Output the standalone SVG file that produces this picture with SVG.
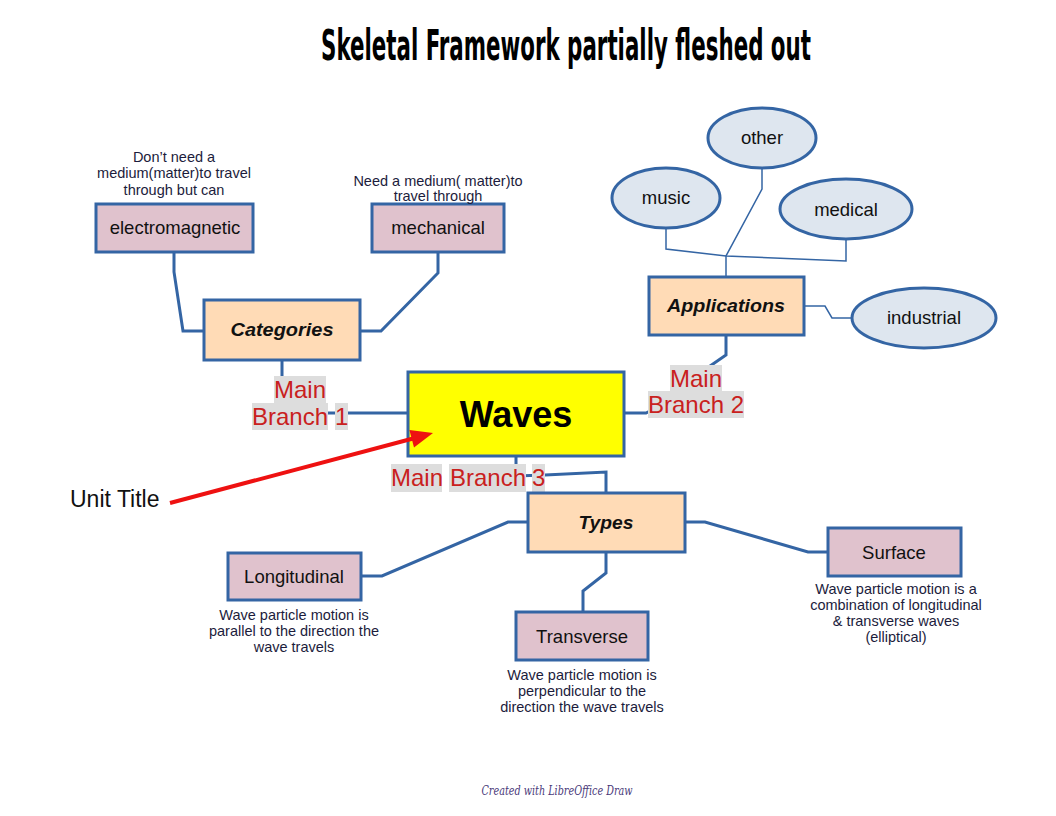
<svg xmlns="http://www.w3.org/2000/svg" width="1056" height="816" viewBox="0 0 1056 816">
<defs>
<style>
.box{stroke:#3465a4;stroke-width:3}
.leaf{fill:#e0c2cd}
.hub{fill:#ffdbb6}
.oval{fill:#dee6ef;stroke:#3465a4;stroke-width:3}
.conn{fill:none;stroke:#3465a4;stroke-width:3;stroke-linejoin:miter}
.thin{fill:none;stroke:#3465a4;stroke-width:1.5}
.lbl{font-family:"Liberation Sans",Arial,sans-serif;font-size:18.5px;fill:#111;text-anchor:middle}
.hubt{font-family:"Liberation Sans",Arial,sans-serif;font-size:19px;font-weight:bold;font-style:italic;fill:#111;text-anchor:middle}
.note{font-family:"Liberation Sans",Arial,sans-serif;font-size:14.5px;fill:#1c1c3c;text-anchor:middle}
.br{font-family:"Liberation Sans",Arial,sans-serif;font-size:24px;fill:#c9211e}
.brbg{fill:#dddddd}
</style>
</defs>
<rect width="1056" height="816" fill="#ffffff"/>

<text x="566" y="60" font-family="'Liberation Sans Narrow','DejaVu Sans Condensed',sans-serif" font-size="42" font-weight="bold" fill="#000" text-anchor="middle" textLength="490" lengthAdjust="spacingAndGlyphs">Skeletal Framework partially fleshed out</text>

<g id="connectors">
<polyline class="conn" points="174,252 174,272 183,331 204,331"/>
<polyline class="conn" points="360,331 381,331 438,273 438,252"/>
<polyline class="conn" points="282,360 282,413 408,413"/>
<polyline class="conn" points="726,335 726,355 700,373 662,405 646,413 624,413"/>
<polyline class="conn" points="516,456 516,476 545,475 606,472 606,492"/>
<polyline class="conn" points="528,522 508,522 382,576 362,576"/>
<polyline class="conn" points="685,522 705,522 808,552 828,552"/>
<polyline class="conn" points="606,552 606,573 583,591 583,612"/>
<polyline class="thin" points="666,228 666,249 726,256 846,261 846,240"/>
<polyline class="thin" points="762,168 762,189 726,256 726,277"/>
<polyline class="thin" points="804,306 825,306 832,318 852,318"/>
</g>

<g id="branch1">
<rect class="brbg" x="274" y="376" width="52" height="27"/>
<rect class="brbg" x="252" y="403" width="76" height="27"/>
<rect class="brbg" x="335" y="403" width="13" height="27"/>
<text class="br" x="300" y="398" text-anchor="middle">Main</text>
<text class="br" x="252" y="425">Branch</text>
<text class="br" x="335" y="425">1</text>
</g>
<g id="branch2">
<rect class="brbg" x="670" y="365" width="52" height="26"/>
<rect class="brbg" x="648" y="391" width="96" height="27"/>
<text class="br" x="696" y="387" text-anchor="middle">Main</text>
<text class="br" x="696" y="413" text-anchor="middle">Branch 2</text>
</g>
<g id="branch3">
<rect class="brbg" x="391" y="464" width="51" height="28"/>
<rect class="brbg" x="449" y="464" width="77" height="28"/>
<rect class="brbg" x="532" y="464" width="13" height="28"/>
<text class="br" x="391" y="486">Main</text>
<text class="br" x="450" y="486">Branch</text>
<text class="br" x="532" y="486">3</text>
</g>

<g id="waves">
<rect class="box" x="408" y="372" width="216" height="84" fill="#ffff00"/>
<text x="516" y="427" font-family="'Liberation Sans',Arial,sans-serif" font-size="36" font-weight="bold" fill="#000" text-anchor="middle">Waves</text>
</g>

<g id="categories">
<rect class="box hub" x="204" y="300" width="156" height="60"/>
<text class="hubt" x="282" y="336" textLength="103" lengthAdjust="spacingAndGlyphs">Categories</text>
</g>
<g id="electromagnetic">
<rect class="box leaf" x="96" y="204" width="157" height="48"/>
<text class="lbl" x="175" y="234">electromagnetic</text>
<text class="note" x="174" y="162">Don’t need a</text>
<text class="note" x="174" y="178">medium(matter)to travel</text>
<text class="note" x="174" y="195">through but can</text>
</g>
<g id="mechanical">
<rect class="box leaf" x="372" y="204" width="132" height="48"/>
<text class="lbl" x="438" y="234">mechanical</text>
<text class="note" x="438" y="186">Need a medium( matter)to</text>
<text class="note" x="438" y="201">travel through</text>
</g>

<g id="applications">
<rect class="box hub" x="649" y="277" width="155" height="58"/>
<text class="hubt" x="726" y="312" textLength="118" lengthAdjust="spacingAndGlyphs">Applications</text>
</g>
<g id="other">
<ellipse class="oval" cx="762" cy="138" rx="54" ry="30"/>
<text class="lbl" x="762" y="144">other</text>
</g>
<g id="music">
<ellipse class="oval" cx="666" cy="198" rx="54" ry="30"/>
<text class="lbl" x="666" y="204">music</text>
</g>
<g id="medical">
<ellipse class="oval" cx="846" cy="209" rx="66" ry="30"/>
<text class="lbl" x="846" y="216">medical</text>
</g>
<g id="industrial">
<ellipse class="oval" cx="924" cy="318" rx="72" ry="30"/>
<text class="lbl" x="924" y="324">industrial</text>
</g>

<g id="types">
<rect class="box hub" x="528" y="493" width="157" height="59"/>
<text class="hubt" x="606" y="529" textLength="55" lengthAdjust="spacingAndGlyphs">Types</text>
</g>
<g id="longitudinal">
<rect class="box leaf" x="228" y="553" width="133" height="47"/>
<text class="lbl" x="294" y="583">Longitudinal</text>
<text class="note" x="294" y="620">Wave particle motion is</text>
<text class="note" x="294" y="636">parallel to the direction the</text>
<text class="note" x="294" y="652">wave travels</text>
</g>
<g id="transverse">
<rect class="box leaf" x="516" y="612" width="132" height="48"/>
<text class="lbl" x="582" y="643">Transverse</text>
<text class="note" x="582" y="680">Wave particle motion is</text>
<text class="note" x="582" y="696">perpendicular to the</text>
<text class="note" x="582" y="712">direction the wave travels</text>
</g>
<g id="surface">
<rect class="box leaf" x="828" y="528" width="133" height="48"/>
<text class="lbl" x="894" y="559">Surface</text>
<text class="note" x="896" y="594">Wave particle motion is a</text>
<text class="note" x="896" y="610">combination of longitudinal</text>
<text class="note" x="896" y="626">&amp; transverse waves</text>
<text class="note" x="896" y="642">(elliptical)</text>
</g>

<g id="unit-title">
<text x="70" y="507" font-family="'Liberation Sans',Arial,sans-serif" font-size="23" fill="#111">Unit Title</text>
</g>

<g id="pointer">
<line x1="170" y1="503" x2="413" y2="438.5" stroke="#ee1111" stroke-width="4"/>
<polygon points="433,433 414,447.4 409.4,430" fill="#ee1111"/>
</g>

<text x="557" y="795" font-family="'DejaVu Serif',serif" font-style="italic" font-size="12" fill="#4a3a7a" text-anchor="middle" textLength="151" lengthAdjust="spacingAndGlyphs">Created with LibreOffice Draw</text>
</svg>
